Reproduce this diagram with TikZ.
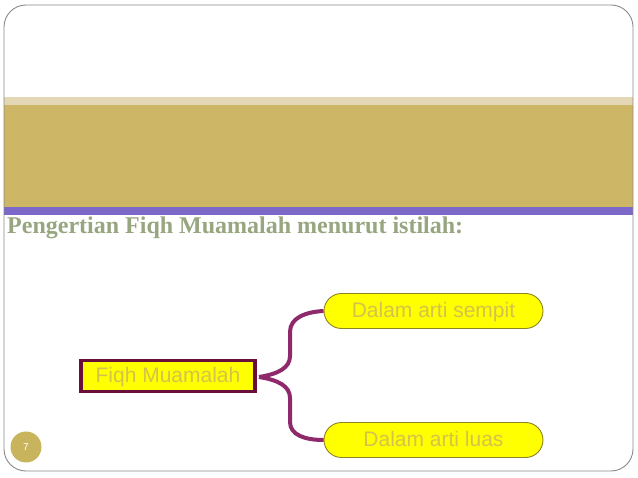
\documentclass[tikz,border=0pt]{standalone}
\usepackage{fontspec}
\setmainfont{Liberation Serif}
\newfontfamily\arialf{Liberation Sans}
\usetikzlibrary{shapes.misc}
\definecolor{framegray}{HTML}{8A8A8A}
\definecolor{beigeband}{HTML}{E4D7B5}
\definecolor{goldband}{HTML}{CDB666}
\definecolor{purpleband}{HTML}{7B68C8}
\definecolor{titlegreen}{HTML}{98A680}
\definecolor{boxyellow}{HTML}{FFFF00}
\definecolor{boxtext}{HTML}{D4C34A}
\definecolor{maroonborder}{HTML}{6A0F3C}
\definecolor{olivebord}{HTML}{8C8420}
\definecolor{bracecol}{HTML}{8E2A6C}
\definecolor{pagegold}{HTML}{C9B45E}
\tikzset{
  mainbox/.style={draw=maroonborder, line width=3.5pt, fill=boxyellow, minimum width=174pt, minimum height=31pt, inner sep=0pt, text height=15pt, text depth=1pt, text=boxtext, font=\arialf\fontsize{21}{24}\selectfont},
  subbox/.style={draw=olivebord, line width=0.9pt, fill=boxyellow, rounded rectangle, minimum width=219pt, minimum height=35pt, inner sep=0pt, text height=15pt, text depth=1pt, text=boxtext, font=\arialf\fontsize{21}{24}\selectfont},
  bracestyle/.style={draw=bracecol, line width=4pt}
}
\begin{document}
\begin{tikzpicture}[x=1pt,y=-1pt]
\useasboundingbox (0,0) rectangle (638,478);
\fill[white] (0,0) rectangle (638,478);
% bands
\fill[beigeband] (4,97) rectangle (633,105);
\fill[goldband] (4,105) rectangle (633,207);
\fill[purpleband] (4,207) rectangle (633,215);
% frame
\draw[framegray, line width=0.9pt, rounded corners=22pt] (4,5) rectangle (633,471);
% title
\node[anchor=base west, inner sep=0pt, text=titlegreen, font=\fontsize{24}{27}\selectfont\bfseries] (title) at (7,234) {Pengertian Fiqh Muamalah menurut istilah:};
% nodes
\node[mainbox] (fm) at (168,376) {Fiqh Muamalah};
\node[subbox] (s1) at (433.5,311) {Dalam arti sempit};
\node[subbox] (s2) at (433.5,440) {Dalam arti luas};
% braces
\coordinate (tip) at (259,377);
\draw[bracestyle] (tip) .. controls (278,374) and (290,368) .. (290,356) -- (290,332) .. controls (290,318) and (305,312) .. (s1.west);
\draw[bracestyle] (tip) .. controls (278,380) and (290,386) .. (290,398) -- (290,422) .. controls (290,435) and (305,440) .. (s2.west);
% page number
\node[circle, fill=pagegold, minimum size=31pt, inner sep=0pt, text=white, font=\arialf\fontsize{10}{12}\selectfont] (pg) at (26,447) {7};
\end{tikzpicture}
\end{document}
